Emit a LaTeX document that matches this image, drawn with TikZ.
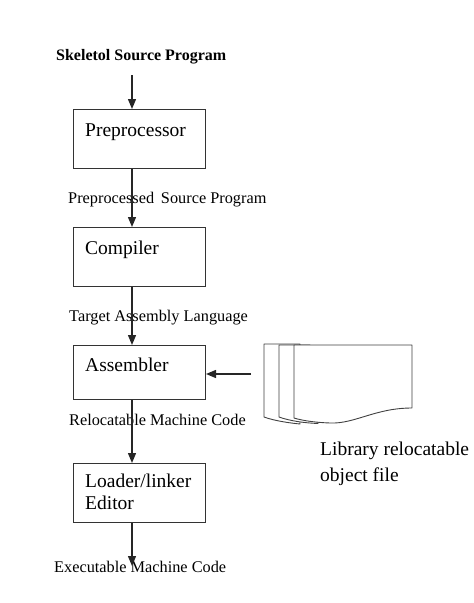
\documentclass[tikz,border=0pt]{standalone}
\usepackage{fontspec}
\setmainfont{Liberation Serif}
\usetikzlibrary{arrows.meta}
\begin{document}
\begin{tikzpicture}[x=1pt,y=-1pt,
  box/.style={draw=black!80,line width=1pt,minimum width=132pt,minimum height=59pt,inner sep=0pt,anchor=north west},
  boxtext/.style={font=\fontsize{19.5}{21.6}\selectfont,anchor=base west,inner sep=0pt,align=left},
  lbl/.style={font=\fontsize{16.3}{18}\selectfont,anchor=base west,inner sep=0pt},
  flow/.style={draw=black!85,line width=1.3pt,-{Triangle[length=10pt,width=8pt]}},
  page/.style={draw=black!75,line width=0.9pt,fill=white,line join=round}]
\useasboundingbox (0,0) rectangle (474,603);
% title
\node[lbl,font=\fontsize{16}{18}\bfseries\selectfont] (title) at (56,60) {Skeletol Source Program};
\coordinate (tstart) at (132,75);
% boxes
\node[box] (pre) at (73,109) {};
\node[boxtext] (pret) at (85,136) {Preprocessor};
\node[box,minimum height=59pt] (comp) at (73,227) {};
\node[boxtext] (compt) at (85,254) {Compiler};
\node[box,minimum height=54pt] (asm) at (73,345) {};
\node[boxtext] (asmt) at (85,371.7) {Assembler};
\node[box,minimum height=59pt] (load) at (73,463) {};
\node[boxtext] (loadt) at (85,487.7) {Loader/linker};
\node[boxtext] (loadt2) at (85,509.3) {Editor};
% labels
\node[lbl] (l1) at (68,203.3) {Preprocessed\, Source Program};
\node[lbl] (l2) at (69,321) {Target Assembly Language};
\node[lbl] (l3) at (69,425) {Relocatable Machine Code};
\node[lbl] (l4) at (54,572.7) {Executable Machine Code};
\coordinate (tend) at (132,566);
% arrows
\draw[flow] (tstart) -- (tstart |- pre.north);
\draw[flow] (tstart |- pre.south) -- (tstart |- comp.north);
\draw[flow] (tstart |- comp.south) -- (tstart |- asm.north);
\draw[flow] (tstart |- asm.south) -- (tstart |- load.north);
\draw[flow] (tstart |- load.south) -- (tend);
% library document stack
\draw[page] (264,417) -- (264,344) -- (300,344) -- (300,424) .. controls (290,423) and (275,421) .. (264,417) -- cycle;
\draw[page] (279,417) -- (279,345) -- (310,345) -- (318,423.5) .. controls (305,423) and (290,421) .. (279,417) -- cycle;
\draw[page] (294,418) -- (294,345) -- (412,345) -- (412,408)
  .. controls (375,408) and (355,424) .. (330,423)
  .. controls (315,422.5) and (302,420.5) .. (294,418) -- cycle;
\coordinate (lib) at (251,374);
\draw[flow] (lib) -- (lib -| asm.east);
\node[boxtext] (libt) at (320,455) {Library relocatable};
\node[boxtext] (libt2) at (320,481.7) {object file};
\end{tikzpicture}
\end{document}
